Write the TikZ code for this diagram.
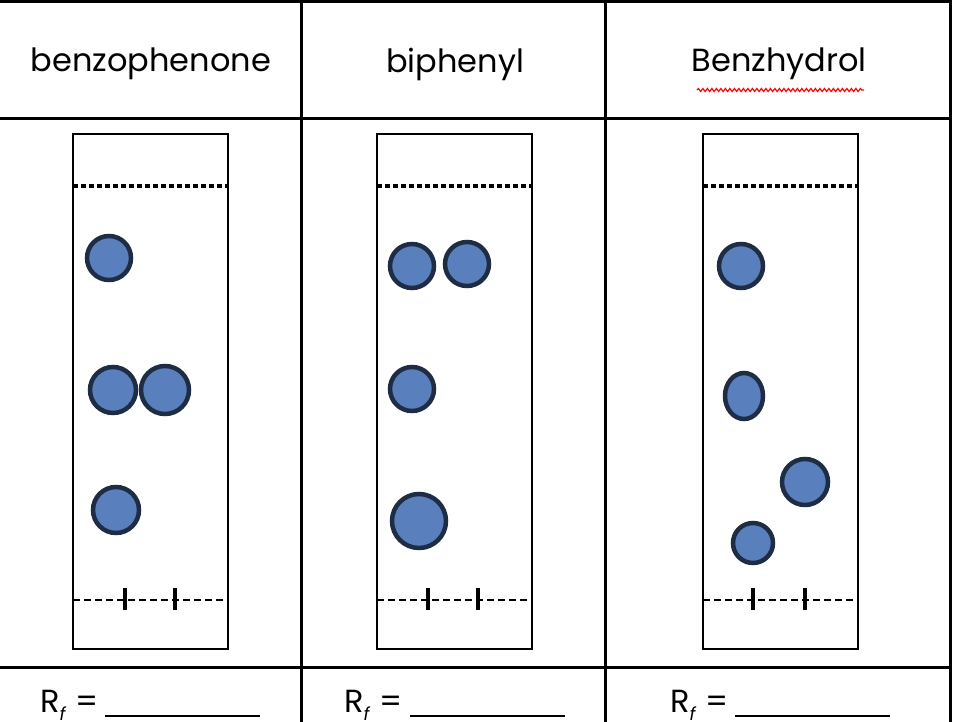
\documentclass[tikz,border=0pt]{standalone}
\usepackage{fontspec}
\setmainfont{Poppins}
\usetikzlibrary{decorations.pathmorphing}
\definecolor{spotfill}{HTML}{5A7FBD}
\definecolor{spotedge}{HTML}{1F2D44}
\tikzset{
  grid/.style={line width=3pt,black},
  plate/.style={line width=2.8pt,black},
  front/.style={line width=4pt,dash pattern=on 5pt off 3pt},
  base/.style={line width=2.6pt,dash pattern=on 7pt off 4pt},
  tick/.style={line width=4pt},
  spot/.style={fill=spotfill,draw=spotedge,line width=4.5pt},
  lbl/.style={font=\fontsize{32}{36}\selectfont,inner sep=0pt},
}
\begin{document}
\begin{tikzpicture}[x=1pt,y=-1pt]
\useasboundingbox (0,0) rectangle (958,722);
% table
\draw[grid] (0,2) -- (950,2);
\draw[grid] (0,119) -- (950,119);
\draw[grid] (0,667) -- (950,667);
\foreach \x in {301,605,950} \draw[grid] (\x,0) -- (\x,722);
% headers
\node[lbl] (h1) at (151,64) {benzophenone};
\node[lbl] (h2) at (455,64) {biphenyl};
\node[lbl] (h3) at (779,64) {Benzhydrol};
\draw[red,line width=1.2pt,decoration={snake,amplitude=1.5pt,segment length=4.5pt},decorate] (697,90) -- (864,90);
% plates
\foreach \l/\ta/\tb in {73/125/175,377/428/478,703/753/805}{
  \draw[plate] (\l,134) rectangle (\l+155,649);
  \draw[front] (\l,186) -- (\l+155,186);
  \draw[base] (\l,600) -- (\l+155,600);
  \draw[tick] (\ta,588) -- (\ta,610);
  \draw[tick] (\tb,588) -- (\tb,610);
}
% spots
\draw[spot] (109,258) circle (22);
\draw[spot] (113,390) circle (23);
\draw[spot] (165,390) circle (24);
\draw[spot] (116,510) circle (23);
\draw[spot] (412,266) circle (22);
\draw[spot] (467,264) circle (22);
\draw[spot] (412,389) circle (22);
\draw[spot] (419,521) circle (27);
\draw[spot] (741,266) circle (22);
\draw[spot] (744,396) ellipse (19 and 23);
\draw[spot] (805,482) circle (23);
\draw[spot] (753,543) circle (20);
% Rf rows
\foreach \x/\n in {40/r1,344/r2,670/r3}{
  \node[lbl,anchor=base west] (\n) at (\x,712) {R\raisebox{-0.25em}{\fontsize{18}{20}\selectfont\textit{f}} =};
}
\draw[line width=2pt] (105,716) -- (260,716);
\draw[line width=2pt] (410,716) -- (565,716);
\draw[line width=2pt] (735,716) -- (890,716);
\end{tikzpicture}
\end{document}
